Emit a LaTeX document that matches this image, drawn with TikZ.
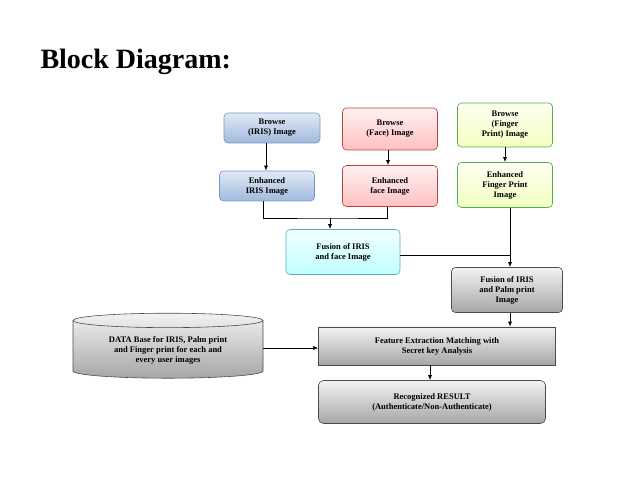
\documentclass[tikz,border=0pt]{standalone}
\usepackage{fontspec}
\setmainfont{Liberation Serif}
\usetikzlibrary{shapes.geometric,arrows.meta}
\definecolor{bluetop}{RGB}{225,234,246}
\definecolor{bluebot}{RGB}{160,185,220}
\definecolor{blueline}{RGB}{120,150,195}
\begin{document}
\begin{tikzpicture}[x=1pt,y=-1pt,
 box/.style={draw=#1,rounded corners=4pt,line width=0.6pt,align=center,font=\fontsize{8.5}{10}\selectfont\bfseries,inner sep=1pt},
 blue/.style={box=blueline,top color=bluetop,bottom color=bluebot},
 red/.style={box=red!50!gray,top color=red!5,bottom color=red!25},
 green/.style={box=green!40!gray,top color=green!5!yellow!5,bottom color=green!20!yellow!25},
 cyan/.style={box=cyan!50!gray,top color=cyan!5,bottom color=cyan!25},
 dark/.style={draw=black!70,line width=0.6pt,align=center,font=\fontsize{8.5}{10}\selectfont\bfseries,inner sep=1pt,top color=gray!10,bottom color=gray!70},
 arr/.style={-{Latex[length=5pt,width=4pt]},line width=0.8pt},
 ln/.style={line width=0.8pt}]
\useasboundingbox (0,0) rectangle (638,478);
\node[anchor=west,font=\fontsize{28}{32}\selectfont\bfseries] (title) at (37,62) {Block Diagram:};
\node[blue,minimum width=96,minimum height=30] (bi) at (272,128) {Browse\\(IRIS) Image};
\node[red,minimum width=95,minimum height=42] (bf) at (390,129) {Browse\\(Face) Image};
\node[green,minimum width=95,minimum height=44] (bp) at (505,125) {Browse\\(Finger\\Print) Image};
\node[blue,minimum width=95,minimum height=30] (ei) at (267,186) {Enhanced\\IRIS Image};
\node[red,minimum width=95,minimum height=41] (ef) at (390,186) {Enhanced\\face Image};
\node[green,minimum width=95,minimum height=45] (ep) at (505,185) {Enhanced\\Finger Print\\Image};
\node[cyan,minimum width=114,minimum height=45] (fif) at (343,252) {Fusion of IRIS\\and face Image};
\node[dark,rounded corners=4pt,minimum width=111,minimum height=45] (fp) at (507,290) {Fusion of IRIS\\and Palm print\\Image};
\node[dark,minimum width=237,minimum height=38] (fe) at (437,346) {Feature Extraction Matching with\\Secret key Analysis};
\node[dark,rounded corners=5pt,minimum width=227,minimum height=43] (res) at (432,402) {Recognized RESULT\\(Authenticate/Non-Authenticate)};
\node[dark,cylinder,shape border rotate=90,aspect=0.12,minimum width=190,minimum height=65] (db) at (168,350) {DATA Base for IRIS, Palm print\\and Finger print for each and\\every user images};
\draw[arr] (bi.south -| 266,0) -- (ei.north -| 266,0);
\draw[arr] (bf.south -| 388,0) -- (ef.north -| 388,0);
\draw[arr] (bp.south -| 505,0) -- (ep.north -| 505,0);
\coordinate (m) at (330,218);
\draw[ln] (ei.south -| 263,0) |- (m) -| (ef.south -| 387,0);
\draw[arr] (m) -- (fif.north -| m);
\draw[arr] (ep.south -| 510,0) -- (fp.north -| 510,0);
\draw[ln] (fif.east |- 0,255) -- (510,255);
\draw[arr] (fp.south -| 510,0) -- (fe.north -| 510,0);
\draw[arr] (fe.south -| 430,0) -- (res.north -| 430,0);
\draw[arr,line width=0.6pt] (db.east |- 0,348) -- (fe.west |- 0,348);
\end{tikzpicture}
\end{document}
